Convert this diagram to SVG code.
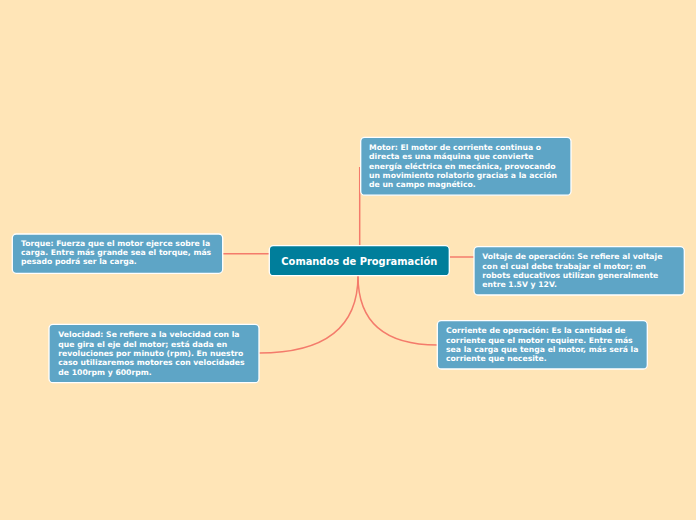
<svg xmlns="http://www.w3.org/2000/svg" width="696" height="520" viewBox="0 0 696 520">
<style>
.bg{fill:#FFE5B7}
.node rect{fill:#5EA5C6;stroke:#FFFFFF;stroke-width:1.3}
.root rect{fill:#007E9B;stroke:#FFFFFF;stroke-width:1.3}
.node text{font-family:"DejaVu Sans",Verdana,sans-serif;font-weight:bold;font-size:7.7px;fill:#FFFFFF}
.root text{font-family:"DejaVu Sans",Verdana,sans-serif;font-weight:bold;font-size:9.9px;fill:#FFFFFF}
.conn path{fill:none;stroke:#F47B6B;stroke-width:1.5}
</style>
<rect class="bg" x="0" y="0" width="696" height="520"/>
<g class="conn" id="connectors">
<path d="M359.7,246 L359.7,167"/>
<path d="M269.5,253.7 L222.5,253.7"/>
<path d="M449,257 L474,257"/>
<path d="M358,276 Q358,353 259,353"/>
<path d="M358,276 Q358,345 437.5,345"/>
</g>
<g id="root" class="root">
<rect x="269.3" y="245.7" width="180" height="30" rx="4"/>
<text x="359.3" y="265" text-anchor="middle">Comandos de Programación</text>
</g>
<g id="motor" class="node">
<rect x="360.7" y="137.3" width="210.3" height="57.9" rx="4"/>
<text x="369" y="150"><tspan x="369" dy="0">Motor: El motor de corriente continua o</tspan><tspan x="369" dy="9.3">directa es una máquina que convierte</tspan><tspan x="369" dy="9.3">energía eléctrica en mecánica, provocando</tspan><tspan x="369" dy="9.3">un movimiento rolatorio gracias a la acción</tspan><tspan x="369" dy="9.3">de un campo magnético.</tspan></text>
</g>
<g id="torque" class="node">
<rect x="12.3" y="234" width="210.4" height="39.3" rx="4"/>
<text x="21" y="245.7"><tspan x="21" dy="0">Torque: Fuerza que el motor ejerce sobre la</tspan><tspan x="21" dy="9.3">carga. Entre más grande sea el torque, más</tspan><tspan x="21" dy="9.3">pesado podrá ser la carga.</tspan></text>
</g>
<g id="voltaje" class="node">
<rect x="474" y="246.7" width="210.3" height="48.3" rx="4"/>
<text x="482.3" y="259.3"><tspan x="482.3" dy="0">Voltaje de operación: Se refiere al voltaje</tspan><tspan x="482.3" dy="9.3">con el cual debe trabajar el motor; en</tspan><tspan x="482.3" dy="9.3">robots educativos utilizan generalmente</tspan><tspan x="482.3" dy="9.3">entre 1.5V y 12V.</tspan></text>
</g>
<g id="velocidad" class="node">
<rect x="49" y="324.3" width="210" height="58.4" rx="4"/>
<text x="58.3" y="337.3"><tspan x="58.3" dy="0">Velocidad: Se refiere a la velocidad con la</tspan><tspan x="58.3" dy="9.3">que gira el eje del motor; está dada en</tspan><tspan x="58.3" dy="9.3">revoluciones por minuto (rpm). En nuestro</tspan><tspan x="58.3" dy="9.3">caso utilizaremos motores con velocidades</tspan><tspan x="58.3" dy="9.3">de 100rpm y 600rpm.</tspan></text>
</g>
<g id="corriente" class="node">
<rect x="437.3" y="320.7" width="210" height="48.3" rx="4"/>
<text x="446" y="333.3"><tspan x="446" dy="0">Corriente de operación: Es la cantidad de</tspan><tspan x="446" dy="9.3">corriente que el motor requiere. Entre más</tspan><tspan x="446" dy="9.3">sea la carga que tenga el motor, más será la</tspan><tspan x="446" dy="9.3">corriente que necesite.</tspan></text>
</g>
</svg>
